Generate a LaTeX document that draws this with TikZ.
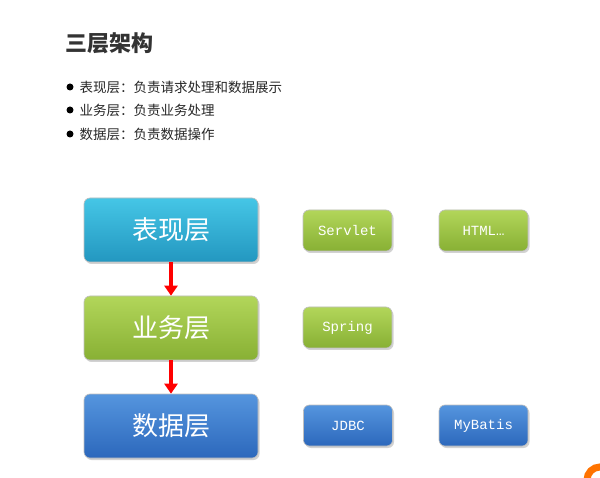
\documentclass[tikz,border=0pt]{standalone}
\usepackage{fontspec}
\setmainfont{Noto Sans CJK SC}
\newfontfamily\cjk{Noto Sans CJK SC}
\setmonofont{Liberation Mono}
\usetikzlibrary{shadows,arrows.meta}
\definecolor{cyanT}{HTML}{45C6E6}\definecolor{cyanB}{HTML}{2397C0}
\definecolor{grnT}{HTML}{B2D65A}\definecolor{grnB}{HTML}{88B034}
\definecolor{bluT}{HTML}{5595DE}\definecolor{bluB}{HTML}{2C68BC}
\tikzset{
 base/.style={rounded corners=6pt,draw=black!25,line width=0.6pt,drop shadow={shadow xshift=1.5pt,shadow yshift=-2pt,opacity=0.35},text=white},
 big/.style={base,minimum width=174pt,minimum height=64pt,font=\cjk\fontsize{26}{26}\selectfont},
 small/.style={base,minimum width=89pt,minimum height=41pt,font=\ttfamily\fontsize{14}{14}\selectfont},
 cy/.style={top color=cyanT,bottom color=cyanB},
 gr/.style={top color=grnT,bottom color=grnB},
 bl/.style={top color=bluT,bottom color=bluB},
 arr/.style={draw=red,line width=3.5pt,-{Triangle[length=10pt,width=13pt]}},
 bul/.style={anchor=west,font=\cjk\fontsize{13.5}{14}\selectfont,text=black!85}
}
\begin{document}
\begin{tikzpicture}[x=1pt,y=-1pt]
\useasboundingbox (0,0) rectangle (600,478);
\fill[white] (0,0) rectangle (600,478);
\node[anchor=west,font=\cjk\bfseries\fontsize{22}{22}\selectfont,text=black!80] (title) at (62,43) {三层架构};
\foreach \y/\t/\n in {87/表现层：负责请求处理和数据展示/b1,110/业务层：负责业务处理/b2,134/数据层：负责数据操作/b3}{
 \fill[black] (70,\y) circle (3.5pt);
 \node[bul] (\n) at (76,\y) {\t};
}
\node[big,cy] (p) at (171,230) {表现层};
\node[big,gr] (s) at (171,328) {业务层};
\node[big,bl] (d) at (171,426) {数据层};
\node[small,gr] (servlet) at (347.5,230.5) {Servlet};
\node[small,gr] (html) at (483.5,230.5) {HTML…};
\node[small,gr] (spring) at (347.5,327.5) {Spring};
\node[small,bl] (jdbc) at (348,425.5) {JDBC};
\node[small,bl] (mybatis) at (483.5,425.5) {MyBatis};
\draw[arr] (p.south) -- (s.north);
\draw[arr] (s.south) -- (d.north);
\draw[orange!90!red,line width=7pt] (600,480) circle (13);
\end{tikzpicture}
\end{document}
